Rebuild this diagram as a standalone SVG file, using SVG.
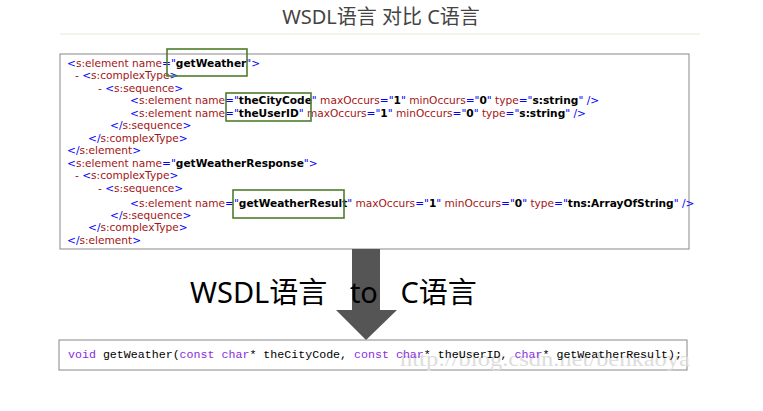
<svg xmlns="http://www.w3.org/2000/svg" width="763" height="411" viewBox="0 0 763 411">
<style>
.x{font-family:"DejaVu Sans",sans-serif;font-size:10.6px;fill:#0000ff}
.r{fill:#a31515}.k{fill:#000;font-weight:bold}
.g{fill:none;stroke:#4e7d2e;stroke-width:1.6}
.c{font-family:"Liberation Mono",monospace;font-size:11px;fill:#000}
.p{fill:#8a2be2}
</style>
<rect width="763" height="411" fill="#fff"/>
<g id="title"><text x="381" y="24" text-anchor="middle" font-family="Noto Sans, Noto Sans CJK SC, sans-serif" font-size="20" fill="#444">WSDL语言 对比 C语言</text>
<line x1="60" y1="34" x2="700" y2="34" stroke="#e8e6d8"/></g>
<g id="xml">
<rect x="60" y="54" width="629" height="195" fill="#fff" stroke="#888"/>
<text class="x" x="67" y="67">&lt;<tspan class="r">s:element name</tspan>="<tspan class="k">getWeather</tspan>"&gt;</text>
<text class="x" x="75" y="79"><tspan class="r">- </tspan>&lt;<tspan class="r">s:complexType</tspan>&gt;</text>
<text class="x" x="98" y="92"><tspan class="r">- </tspan>&lt;<tspan class="r">s:sequence</tspan>&gt;</text>
<text class="x" x="130" y="104">&lt;<tspan class="r">s:element name</tspan>="<tspan class="k">theCityCode</tspan>" <tspan class="r">maxOccurs</tspan>="<tspan class="k">1</tspan>" <tspan class="r">minOccurs</tspan>="<tspan class="k">0</tspan>" <tspan class="r">type</tspan>="<tspan class="k">s:string</tspan>" /&gt;</text>
<text class="x" x="130" y="117">&lt;<tspan class="r">s:element name</tspan>="<tspan class="k">theUserID</tspan>" <tspan class="r">maxOccurs</tspan>="<tspan class="k">1</tspan>" <tspan class="r">minOccurs</tspan>="<tspan class="k">0</tspan>" <tspan class="r">type</tspan>="<tspan class="k">s:string</tspan>" /&gt;</text>
<text class="x" x="110" y="129">&lt;/<tspan class="r">s:sequence</tspan>&gt;</text>
<text class="x" x="88" y="142">&lt;/<tspan class="r">s:complexType</tspan>&gt;</text>
<text class="x" x="67" y="154">&lt;/<tspan class="r">s:element</tspan>&gt;</text>
<text class="x" x="67" y="167">&lt;<tspan class="r">s:element name</tspan>="<tspan class="k">getWeatherResponse</tspan>"&gt;</text>
<text class="x" x="75" y="179"><tspan class="r">- </tspan>&lt;<tspan class="r">s:complexType</tspan>&gt;</text>
<text class="x" x="98" y="192"><tspan class="r">- </tspan>&lt;<tspan class="r">s:sequence</tspan>&gt;</text>
<text class="x" x="130" y="207">&lt;<tspan class="r">s:element name</tspan>="<tspan class="k">getWeatherResult</tspan>" <tspan class="r">maxOccurs</tspan>="<tspan class="k">1</tspan>" <tspan class="r">minOccurs</tspan>="<tspan class="k">0</tspan>" <tspan class="r">type</tspan>="<tspan class="k">tns:ArrayOfString</tspan>" /&gt;</text>
<text class="x" x="110" y="219">&lt;/<tspan class="r">s:sequence</tspan>&gt;</text>
<text class="x" x="88" y="231">&lt;/<tspan class="r">s:complexType</tspan>&gt;</text>
<text class="x" x="67" y="244">&lt;/<tspan class="r">s:element</tspan>&gt;</text>
<rect class="g" x="167" y="49" width="80" height="27"/>
<rect class="g" x="226" y="93" width="85" height="28"/>
<rect class="g" x="233" y="190" width="111" height="28"/>
</g>
<g id="connectors"><polygon points="352,249 380,249 380,310 397,310 366,340 336,310 352,310" fill="#555"/></g>
<g id="label"><text x="190" y="303" font-family="Noto Sans, Noto Sans CJK SC, sans-serif" font-size="29" fill="#000" xml:space="preserve">WSDL语言   to   C语言</text></g>
<g id="code">
<rect x="59" y="340" width="628" height="30" fill="#fff" stroke="#888"/>
<text x="400" y="366" font-family="Liberation Serif, serif" font-size="20" fill="#ddd" textLength="290" lengthAdjust="spacingAndGlyphs">http://blog.csdn.net/benkaoya</text>
<text class="c" x="68" y="358" textLength="614" lengthAdjust="spacingAndGlyphs" xml:space="preserve"><tspan class="p">void</tspan> getWeather(<tspan class="p">const char</tspan>* theCityCode, <tspan class="p">const char</tspan>* theUserID, <tspan class="p">char</tspan>* getWeatherResult);</text>
</g>
</svg>
